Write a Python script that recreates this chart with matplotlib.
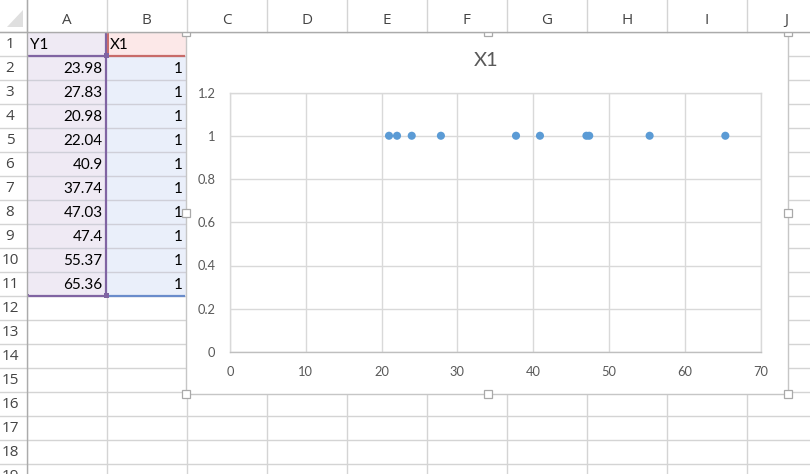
import matplotlib
matplotlib.use("Agg")
import matplotlib.pyplot as plt
from matplotlib.patches import Rectangle, Polygon

# ---------------- data ----------------
header_y = "Y1"
header_x = "X1"
y1_values = [23.98, 27.83, 20.98, 22.04, 40.9, 37.74, 47.03, 47.4, 55.37, 65.36]
x1_values = [1, 1, 1, 1, 1, 1, 1, 1, 1, 1]
column_letters = ["A", "B", "C", "D", "E", "F", "G", "H", "I", "J"]
row_numbers = list(range(1, 20))
chart_title = "X1"
x_ticks = [0, 10, 20, 30, 40, 50, 60, 70]
y_ticks = [0, 0.2, 0.4, 0.6, 0.8, 1, 1.2]
y_tick_labels = ["0", "0.2", "0.4", "0.6", "0.8", "1", "1.2"]

# ---------------- layout (pixels) ----------------
W, H = 810, 474
fig = plt.figure(figsize=(W / 100, H / 100), dpi=100)
fig.patch.set_facecolor("white")

bg = fig.add_axes([0, 0, 1, 1])
bg.set_xlim(0, W)
bg.set_ylim(H, 0)
bg.axis("off")

hdr_h = 31.7
row_h = 24.0
rowhdr_w = 26.7
col_w = 80.0
col_left = [rowhdr_w + i * col_w for i in range(len(column_letters))]

grid_c = "#D4D4D4"
hdr_line_c = "#ABABAB"
cell_font = "Lato"
hdr_font = "Open Sans"
cell_fs = 11

# sheet gridlines
for r in range(len(row_numbers) + 1):
    y = hdr_h + r * row_h
    bg.plot([0, W], [y, y], color=grid_c, lw=1, zorder=1)
for cl in col_left:
    bg.plot([cl, cl], [0, H], color=grid_c, lw=1, zorder=1)

def row_top(r):
    return hdr_h + (r - 1) * row_h

# cell fills
A0, B0 = col_left[0], col_left[1]
bg.add_patch(Rectangle((A0 + 0.5, row_top(1) + 0.5), col_w - 1, row_h * (1 + len(y1_values)) - 1,
                       facecolor="#EFEAF4", edgecolor="none", zorder=1.5))
bg.add_patch(Rectangle((B0 + 0.5, row_top(1) + 0.5), col_w - 1, row_h - 1,
                       facecolor="#FCE8E8", edgecolor="none", zorder=1.5))
bg.add_patch(Rectangle((B0 + 0.5, row_top(2) + 0.5), col_w - 1, row_h * len(x1_values) - 1,
                       facecolor="#EAEFFA", edgecolor="none", zorder=1.5))
for r in range(1, len(y1_values) + 2):
    y = row_top(r)
    bg.plot([A0, B0 + col_w], [y, y], color="#CFCFD8", lw=1, zorder=1.6)

# cell text
bg.text(A0 + 3, row_top(1) + row_h / 2 + 1, header_y, ha="left", va="center",
        fontsize=cell_fs, family=cell_font, color="black", zorder=3)
bg.text(B0 + 3, row_top(1) + row_h / 2 + 1, header_x, ha="left", va="center",
        fontsize=cell_fs, family=cell_font, color="black", zorder=3)
for i, (yv, xv) in enumerate(zip(y1_values, x1_values)):
    yc = row_top(i + 2) + row_h / 2 + 1
    bg.text(A0 + col_w - 4, yc, f"{yv:g}", ha="right", va="center",
            fontsize=cell_fs, family=cell_font, color="black", zorder=3)
    bg.text(B0 + col_w - 4, yc, f"{xv:g}", ha="right", va="center",
            fontsize=cell_fs, family=cell_font, color="black", zorder=3)

# range selection borders
purple, red, blue = "#8064A2", "#C86B69", "#6A8CCB"
last_bottom = row_top(len(y1_values) + 2)
bg.plot([B0 - 0.3, B0 - 0.3], [row_top(1) + 1, last_bottom], color=purple, lw=1.6, zorder=2.5)
bg.plot([A0 + 1, B0], [row_top(2), row_top(2)], color=purple, lw=1.6, zorder=2.5)
bg.plot([A0 + 1, B0], [last_bottom, last_bottom], color=purple, lw=1.6, zorder=2.5)
bg.add_patch(Rectangle((B0 - 2.5, row_top(2) - 2.5), 5, 5, facecolor=purple, edgecolor="none", zorder=2.6))
bg.add_patch(Rectangle((B0 - 2.5, last_bottom - 2.5), 5, 5, facecolor=purple, edgecolor="none", zorder=2.6))
bg.add_patch(Rectangle((A0, last_bottom - 1.5), 2, 3, facecolor=purple, edgecolor="none", zorder=2.6))
bg.plot([B0 + 1, B0 + 1], [row_top(1) + 1, row_top(2) - 2], color=red, lw=1.4, zorder=2.5)
bg.plot([B0 + 2, B0 + col_w - 3], [row_top(2), row_top(2)], color=red, lw=1.6, zorder=2.5)
bg.plot([B0 + 2, B0 + col_w - 3], [last_bottom, last_bottom], color=blue, lw=1.6, zorder=2.5)

# ---------------- chart frame ----------------
cx0, cx1, cy0, cy1 = 186, 788, 32, 393.5
bg.add_patch(Rectangle((cx0, cy0), cx1 - cx0, cy1 - cy0, facecolor="white",
                       edgecolor="#C6C6C6", lw=1, zorder=4))
hs = 8
cxm, cym = (cx0 + cx1) / 2 + 0.5, (cy0 + cy1) / 2 + 0.5
for hx, hy in [(cx0, cy0), (cxm, cy0), (cx1, cy0), (cx0, cym), (cx1, cym),
               (cx0, cy1), (cxm, cy1), (cx1, cy1)]:
    bg.add_patch(Rectangle((hx - hs / 2, hy - hs / 2), hs, hs, facecolor="white",
                           edgecolor="#A9A9A9", lw=0.9, zorder=4.5))

# ---------------- headers ----------------
bg.add_patch(Rectangle((0, 0), W, hdr_h, facecolor="white", edgecolor="none", zorder=5))
bg.add_patch(Rectangle((0, 0), rowhdr_w, H, facecolor="white", edgecolor="none", zorder=5))
for cl in col_left:
    bg.plot([cl, cl], [0, hdr_h], color=grid_c, lw=1, zorder=5.2)
for r in range(len(row_numbers) + 1):
    y = hdr_h + r * row_h
    bg.plot([0, rowhdr_w], [y, y], color=grid_c, lw=1, zorder=5.2)
bg.plot([0, W], [hdr_h, hdr_h], color=hdr_line_c, lw=1, zorder=5.3)
bg.plot([rowhdr_w, rowhdr_w], [0, H], color=hdr_line_c, lw=1, zorder=5.3)
bg.add_patch(Polygon([[23, 10], [23, 27], [7, 27]], closed=True, facecolor="#DFDFDF",
                     edgecolor="none", zorder=5.4))
for letter, cl in zip(column_letters, col_left):
    bg.text(cl + col_w / 2, 20, letter, ha="center", va="center", fontsize=11,
            family=hdr_font, color="#444444", zorder=6)
for rn in row_numbers:
    bg.text(10, row_top(rn) + row_h / 2 + 0.5, str(rn), ha="center", va="center",
            fontsize=11, family=hdr_font, color="#444444", zorder=6, clip_on=True)

# ---------------- chart ----------------
px0, px1, py0, py1 = 230, 760.5, 92.5, 352
ax = fig.add_axes([px0 / W, 1 - py1 / H, (px1 - px0) / W, (py1 - py0) / H])
ax.set_facecolor("none")
ax.scatter(y1_values, x1_values, s=34, color="#5B9BD5", edgecolors="none", zorder=3, clip_on=False)
ax.set_xlim(0, 70)
ax.set_ylim(0, 1.2)
ax.set_xticks(x_ticks)
ax.set_xticklabels([str(t) for t in x_ticks])
ax.set_yticks(y_ticks)
ax.set_yticklabels(y_tick_labels)
ax.grid(True, color="#D9D9D9", lw=1)
ax.set_axisbelow(True)
for side in ["left", "right", "top"]:
    ax.spines[side].set_color("#D9D9D9")
    ax.spines[side].set_linewidth(1)
ax.spines["bottom"].set_color("#BFBFBF")
ax.spines["bottom"].set_linewidth(1)
ax.tick_params(length=0, labelsize=9.3, labelcolor="#595959")
ax.tick_params(axis="y", pad=10.5)
ax.tick_params(axis="x", pad=10)
for lab in ax.get_xticklabels() + ax.get_yticklabels():
    lab.set_family(cell_font)

fig.text(486 / W, 1 - 60 / H, chart_title, ha="center", va="center", fontsize=14.5,
         family=cell_font, color="#595959")

fig.savefig("out.png", dpi=100)
